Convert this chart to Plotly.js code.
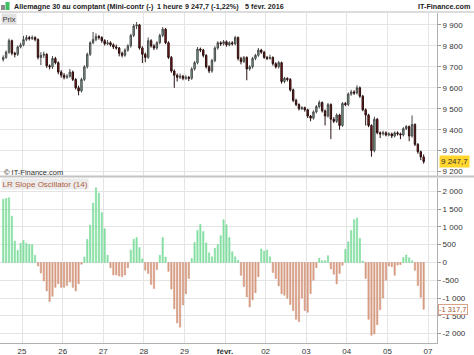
<!DOCTYPE html>
<html><head><meta charset="utf-8">
<script src="https://cdn.plot.ly/plotly-3.0.1.min.js"></script>
<style>html,body{margin:0;padding:0;background:#fff;}</style>
</head><body><div id="chart" style="width:474px;height:355px;"></div>
<script>
// Hourly bars (index), day boundaries between bars
var dayTickIdx = [6.5, 20.5, 34.5, 48.5, 62.5, 76.5, 90.5, 104.5, 118.5, 132.5, 146.5];
var dayLabels = ['25', '26', '27', '28', '29', '<b>févr.</b>', '02', '03', '04', '05', '07'];

var open = [9735,9745,9770,9825,9765,9760,9795,9805,9830,9840,9835,9840,9830,9745,9755,9760,9705,9700,9740,9720,
9675,9660,9650,9655,9675,9640,9600,9585,9640,9700,9760,9815,9830,9845,9840,9825,9810,9815,9805,9795,
9790,9765,9755,9780,9800,9850,9895,9900,9790,9760,9745,9825,9800,9790,9815,9850,9880,9815,9745,9680,
9660,9650,9655,9645,9650,9645,9690,9720,9785,9780,9755,9700,9680,9730,9790,9815,9810,9820,9805,9815,
9810,9840,9740,9725,9745,9690,9700,9740,9755,9780,9770,9745,9740,9745,9715,9700,9720,9630,9645,9640,
9590,9540,9520,9500,9505,9495,9465,9455,9485,9510,9530,9490,9465,9520,9450,9440,9470,9420,9525,9520,
9570,9580,9575,9600,9560,9495,9470,9420,9300,9450,9385,9380,9385,9375,9380,9370,9385,9380,9375,9405,
9415,9370,9425,9330,9295,9270];
var high = [9755,9778,9835,9830,9772,9802,9815,9848,9852,9848,9850,9846,9836,9770,9772,9765,9712,9752,9748,9726,
9684,9670,9665,9690,9682,9646,9610,9648,9708,9768,9822,9866,9860,9852,9846,9832,9828,9822,9812,9806,
9795,9772,9788,9808,9858,9905,9914,9905,9798,9768,9840,9832,9808,9822,9858,9890,9886,9822,9752,9688,
9668,9668,9662,9660,9656,9698,9728,9795,9792,9786,9760,9708,9738,9798,9822,9822,9828,9826,9822,9822,
9848,9845,9748,9752,9750,9708,9748,9762,9790,9786,9776,9752,9758,9750,9722,9728,9725,9652,9650,9646,
9596,9548,9526,9512,9510,9500,9470,9492,9518,9540,9535,9496,9528,9526,9460,9478,9476,9532,9532,9578,
9590,9588,9612,9606,9566,9502,9476,9426,9462,9456,9392,9395,9392,9388,9386,9392,9392,9386,9412,9422,
9420,9468,9430,9336,9300,9282];
var low = [9725,9738,9762,9755,9745,9752,9788,9798,9822,9826,9828,9822,9735,9708,9742,9695,9688,9690,9712,9665,
9648,9640,9642,9648,9632,9592,9564,9578,9632,9692,9752,9808,9822,9830,9815,9802,9803,9797,9785,9782,
9750,9745,9748,9772,9792,9842,9880,9782,9718,9722,9738,9792,9780,9782,9808,9842,9808,9738,9672,9600,
9630,9642,9636,9638,9632,9638,9682,9712,9770,9745,9692,9670,9672,9722,9782,9800,9802,9796,9798,9802,
9803,9730,9712,9718,9636,9682,9692,9732,9748,9762,9738,9732,9734,9706,9692,9692,9620,9622,9630,9582,
9532,9512,9492,9494,9486,9456,9440,9448,9478,9502,9482,9420,9458,9355,9432,9432,9400,9414,9512,9512,
9562,9566,9568,9552,9488,9420,9412,9271,9292,9378,9360,9372,9368,9368,9360,9363,9372,9355,9368,9398,
9345,9362,9322,9285,9255,9238];
var close = [9745,9770,9825,9765,9760,9795,9805,9830,9840,9835,9840,9830,9745,9755,9760,9705,9700,9740,9720,9675,
9660,9650,9655,9675,9640,9600,9585,9640,9700,9760,9815,9830,9845,9840,9825,9810,9815,9805,9795,9790,
9765,9755,9780,9800,9850,9895,9900,9790,9760,9745,9825,9800,9790,9815,9850,9880,9815,9745,9680,9660,
9650,9655,9645,9650,9645,9690,9720,9785,9780,9755,9700,9680,9730,9790,9815,9810,9820,9805,9815,9810,
9840,9740,9725,9745,9690,9700,9740,9755,9780,9770,9745,9740,9745,9715,9700,9720,9630,9645,9640,9590,
9540,9520,9500,9505,9495,9465,9455,9485,9510,9530,9490,9465,9520,9450,9440,9470,9420,9525,9520,9570,
9580,9575,9600,9560,9495,9470,9420,9300,9450,9385,9380,9385,9375,9380,9370,9385,9380,9375,9405,9415,
9370,9425,9330,9295,9270,9247.7];

var lrSlope = [1780,1800,1820,1300,600,340,540,620,540,510,500,200,-100,-300,-520,-800,-1100,-950,-700,-600,
-700,-700,-650,-550,-700,-800,-600,-50,150,650,1050,1670,2100,1950,1400,950,200,-150,-350,-350,
-380,-400,-350,-150,350,650,700,420,100,-220,-310,-620,-730,-200,200,700,150,-250,-750,-1300,
-1700,-1820,-1200,-880,-450,110,560,900,1070,870,550,270,160,400,500,750,1200,1060,700,300,
160,60,-360,-680,-970,-1250,-1050,-850,-400,380,320,350,160,-280,-450,-660,-880,-925,-1010,-1180,
-1350,-1600,-1660,-1000,-1350,-1400,-880,-500,-150,120,50,50,190,-180,-330,-600,-310,-80,370,585,
900,1200,1250,680,40,-450,-1600,-2050,-2010,-1750,-1330,-1000,-500,-100,-120,-360,-75,-60,140,210,
130,50,-220,-650,-980,-1317.7];

var priceTicks = [9200, 9300, 9400, 9500, 9600, 9700, 9800, 9900];
var priceTickText = ['9 200', '9 300', '9 400', '9 500', '9 600', '9 700', '9 800', '9 900'];
var oscTicks = [-2000, -1500, -1000, -500, 0, 500, 1000, 1500, 2000];
var oscTickText = ['-2 000', '-1 500', '-1 000', '-500', '0', '500', '1 000', '1 500', '2 000'];

var idx = close.map(function(_, i){ return i; });

var candles = {
  type: 'candlestick', x: idx, open: open, high: high, low: low, close: close,
  xaxis: 'x', yaxis: 'y',
  increasing: {line: {color: '#4a4a4a', width: 1}, fillcolor: '#79b594'},
  decreasing: {line: {color: '#2a1010', width: 1}, fillcolor: '#8e1b1b'},
  whiskerwidth: 0, hoverinfo: 'skip'
};
var oscBars = {
  type: 'bar', x: idx, y: lrSlope, xaxis: 'x', yaxis: 'y2', width: 0.45,
  marker: {
    color: lrSlope.map(function(v){ return v >= 0 ? '#8fe3aa' : '#dfa68c'; }),
    line: {color: lrSlope.map(function(v){ return v >= 0 ? '#6fd690' : '#c9876a'; }), width: 0.5}
  },
  hoverinfo: 'skip'
};

function px(x){ return x / 437; }
function py(y){ return (343 - y) / 330; }

var layout = {
  width: 474, height: 355,
  margin: {l: 0, r: 37, t: 13, b: 12, pad: 0},
  paper_bgcolor: '#ffffff', plot_bgcolor: '#ffffff',
  showlegend: false, bargap: 0,
  font: {family: 'Liberation Sans, Arial, sans-serif', size: 8, color: '#333'},
  xaxis: {
    domain: [0, 1], range: [-1.1, 149.6], anchor: 'y2',
    tickvals: dayTickIdx, ticktext: dayLabels,
    showgrid: true, gridcolor: '#e4e4e4', gridwidth: 1,
    showline: true, linecolor: '#b0b0b0', linewidth: 1, mirror: false,
    ticks: '', tickfont: {size: 8, color: '#333'},
    zeroline: false, rangeslider: {visible: false}, fixedrange: true
  },
  yaxis: {
    domain: [py(176), 1], range: [9179, 9957], anchor: 'x', side: 'right',
    tickvals: priceTicks, ticktext: priceTickText,
    showgrid: true, gridcolor: '#e4e4e4', gridwidth: 1,
    showline: true, linecolor: '#b0b0b0', linewidth: 1,
    ticks: 'outside', ticklen: 3, tickcolor: '#999',
    tickfont: {size: 8, color: '#333'}, zeroline: false
  },
  yaxis2: {
    domain: [0, py(177.5)], range: [-2266, 2390], anchor: 'x', side: 'right',
    tickvals: oscTicks, ticktext: oscTickText,
    showgrid: true, gridcolor: '#e4e4e4', gridwidth: 1,
    showline: true, linecolor: '#b0b0b0', linewidth: 1,
    ticks: 'outside', ticklen: 3, tickcolor: '#999',
    tickfont: {size: 8, color: '#333'}, zeroline: false
  },
  shapes: [
    {type: 'line', xref: 'paper', yref: 'paper', x0: 0, x1: px(474), y0: py(176.5), y1: py(176.5), line: {color: '#c4c4c4', width: 2}},
    {type: 'line', xref: 'paper', yref: 'paper', x0: 0, x1: px(474), y0: py(12), y1: py(12), line: {color: '#d0d0d0', width: 1.5}},
    {type: 'rect', xref: 'paper', yref: 'paper', x0: px(1), x1: px(5), y0: py(10), y1: py(5), fillcolor: '#8a8a8a', line: {width: 0}},
    {type: 'rect', xref: 'paper', yref: 'paper', x0: px(5.5), x1: px(9.5), y0: py(10), y1: py(2), fillcolor: '#3fbf5f', line: {width: 0}}
  ],
  annotations: [
    {xref: 'paper', yref: 'paper', x: px(12), y: py(6.5), xanchor: 'left', yanchor: 'middle', showarrow: false,
     text: '<b>Allemagne 30 au comptant (Mini-contr (-)</b>', font: {size: 7.2, color: '#222'}},
    {xref: 'paper', yref: 'paper', x: px(155), y: py(6.5), xanchor: 'left', yanchor: 'middle', showarrow: false,
     text: '<b>1 heure</b>', font: {size: 7.2, color: '#222'}},
    {xref: 'paper', yref: 'paper', x: px(183), y: py(6.5), xanchor: 'left', yanchor: 'middle', showarrow: false,
     text: '<b>9 247,7 (-1,22%)</b>', font: {size: 7.2, color: '#222'}},
    {xref: 'paper', yref: 'paper', x: px(243), y: py(6.5), xanchor: 'left', yanchor: 'middle', showarrow: false,
     text: '<b>5 févr. 2016</b>', font: {size: 7.2, color: '#222'}},
    {xref: 'paper', yref: 'paper', x: px(472), y: py(6.5), xanchor: 'right', yanchor: 'middle', showarrow: false,
     text: '<b>IT-Finance.com</b>', font: {size: 7.2, color: '#222'}},
    {xref: 'paper', yref: 'paper', x: px(1), y: py(13), xanchor: 'left', yanchor: 'top', showarrow: false,
     text: 'Prix', font: {size: 7.5, color: '#333'}, bgcolor: '#e2e2e2', borderpad: 0.5},
    {xref: 'paper', yref: 'paper', x: px(2), y: py(172.5), xanchor: 'left', yanchor: 'middle', showarrow: false,
     text: '© IT-Finance.com', font: {size: 7.5, color: '#333'}},
    {xref: 'paper', yref: 'paper', x: px(1), y: py(178.5), xanchor: 'left', yanchor: 'top', showarrow: false,
     text: 'LR Slope Oscillator (14)', font: {size: 8, color: '#b0603c'}, bgcolor: '#ececec', borderpad: 0.5},
    {xref: 'paper', yref: 'y', x: px(439), y: close[close.length - 1], xanchor: 'left', yanchor: 'middle', showarrow: false,
     text: '9 247,7', font: {size: 8, color: '#333'}, bgcolor: '#ffd52e', borderpad: 1},
    {xref: 'paper', yref: 'y2', x: px(438), y: lrSlope[lrSlope.length - 1], xanchor: 'left', yanchor: 'middle', showarrow: false,
     text: '-1 317,7', font: {size: 7.5, color: '#a8583a'}, bgcolor: '#ffffff', bordercolor: '#d9a08a', borderwidth: 1, borderpad: 0}
  ]
};

Plotly.newPlot('chart', [oscBars, candles], layout, {staticPlot: true, displayModeBar: false});
</script></body></html>
